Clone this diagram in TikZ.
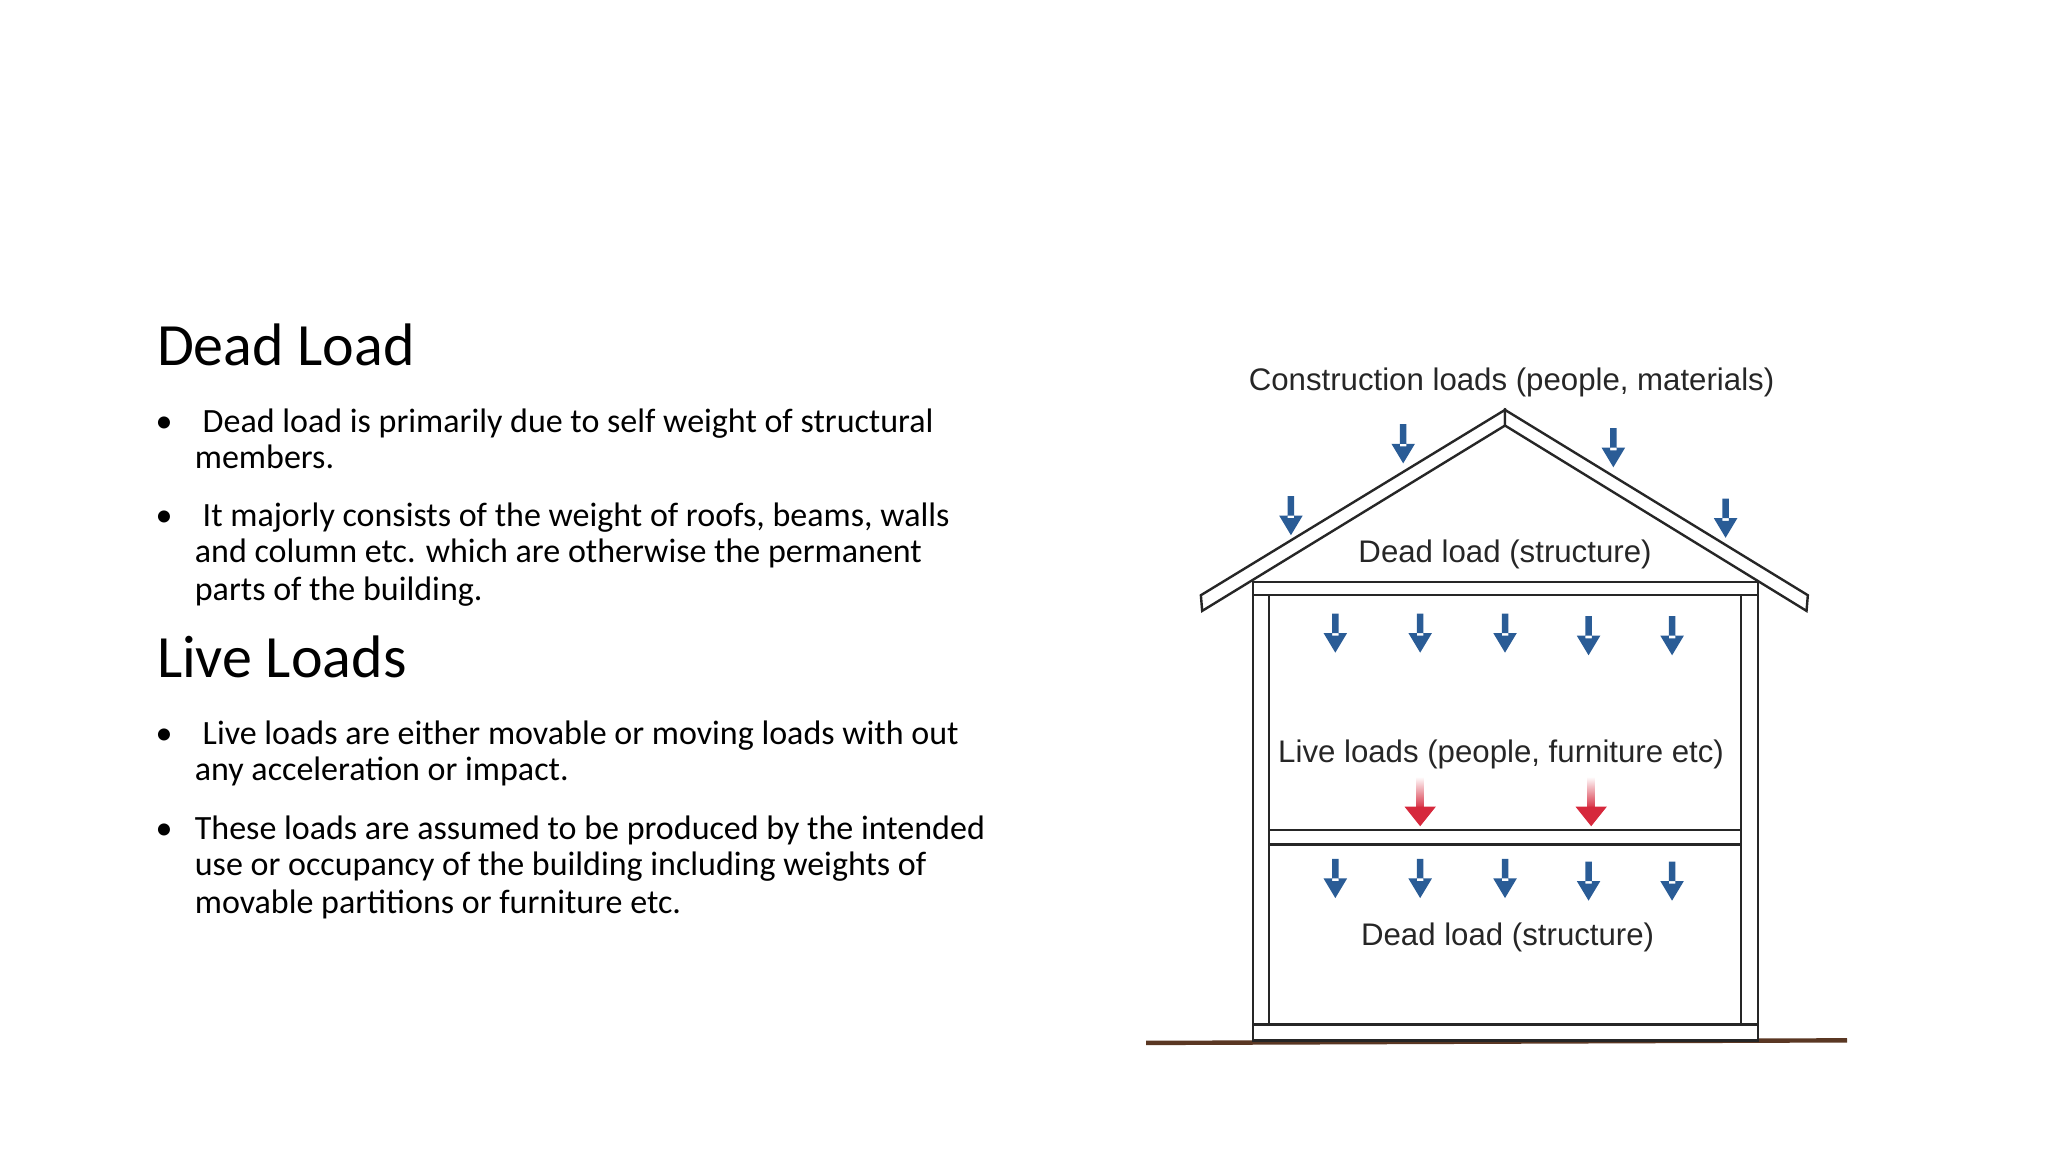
\documentclass[tikz,border=0pt]{standalone}
\usepackage{fontspec}
\setmainfont{Carlito}
\newfontfamily\diafont{Liberation Sans}
\begin{document}
\begin{tikzpicture}[x=0.6526pt,y=-0.6526pt,
  title/.style={anchor=base west,inner sep=0,font=\fontsize{30}{30}\selectfont},
  body/.style={anchor=base west,inner sep=0,font=\fontsize{17}{17}\selectfont},
  lbl/.style={inner sep=0,text=black!85,font=\diafont\fontsize{15.6}{15.6}\selectfont},
  wood/.style={draw=black!85,line width=1.2pt,fill=white},
]
\definecolor{ldblue}{RGB}{42,92,150}
\definecolor{ldred}{RGB}{214,40,60}
\definecolor{ground}{RGB}{90,55,35}
\useasboundingbox (0,0) rectangle (1569,883);
% text
\node[title] (t1) at (120,280) {Dead Load};
\node[body] (b1) at (119,331) {•};
\node[body] (l11) at (155,331) {Dead load is primarily due to self weight of structural};
\node[body] (l12) at (149,359) {members.};
\node[body] (b2) at (119,403) {•};
\node[body] (l21) at (155,403) {It majorly consists of the weight of roofs, beams, walls};
\node[body] (l22) at (149,431) {and column etc. which are otherwise the permanent};
\node[body] (l23) at (149,460) {parts of the building.};
\node[title] (t2) at (120,519) {Live Loads};
\node[body] (b3) at (119,570) {•};
\node[body] (l31) at (155,570) {Live loads are either movable or moving loads with out};
\node[body] (l32) at (149,598) {any acceleration or impact.};
\node[body] (b4) at (119,643) {•};
\node[body] (l41) at (149,643) {These loads are assumed to be produced by the intended};
\node[body] (l42) at (149,671) {use or occupancy of the building including weights of};
\node[body] (l43) at (149,700) {movable partitions or furniture etc.};
% house
\draw[ground,line width=2.2pt] (878,799) -- (1415,797);
\draw[wood] (960,785) rectangle (1347,797);
\draw[wood] (960,456) rectangle (972,785);
\draw[wood] (1334,456) rectangle (1347,785);
\draw[wood] (972,636) rectangle (1334,647);
\draw[wood] (960,446) rectangle (1347,456);
\draw[wood] (920,456) -- (1153,314) -- (1153,326) -- (921,468) -- cycle;
\draw[wood] (1385,456) -- (1153,314) -- (1153,326) -- (1384,468) -- cycle;
% blue arrows
\foreach \x/\y [count=\i] in {989/380,1075/325,1236/328,1322/382,
  1023/470,1088/470,1153/470,1217/472,1281/472,
  1023/658,1088/658,1153/658,1217/660,1281/660}{
  \fill[ldblue] (\x-2.5,\y) rectangle (\x+2.5,\y+17)
    (\x-9,\y+15) -- (\x+9,\y+15) -- (\x,\y+30) -- cycle;
}
% red arrows
\foreach \x in {1088,1219}{
  \shade[top color=white,bottom color=ldred] (\x-2.8,595) rectangle (\x+2.8,620);
  \fill[ldred] (\x-12,618) -- (\x+12,618) -- (\x,633) -- cycle;
}
\node[lbl] (c1) at (1158,293) {Construction loads (people, materials)};
\node[lbl] (c2) at (1153,425) {Dead load (structure)};
\node[lbl] (c3) at (1150,578) {Live loads (people, furniture etc)};
\node[lbl] (c4) at (1155,718) {Dead load (structure)};
\end{tikzpicture}
\end{document}
